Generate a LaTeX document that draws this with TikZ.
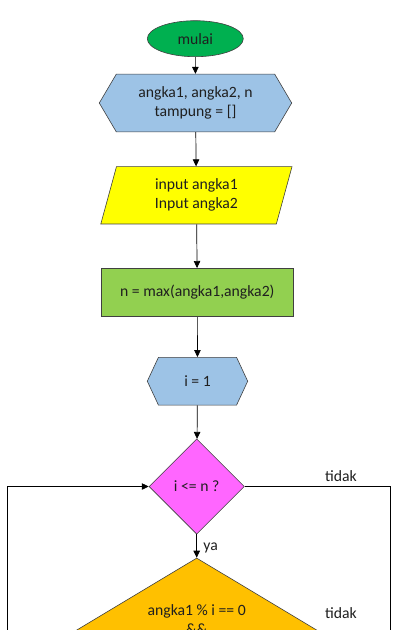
\documentclass[tikz,border=0pt]{standalone}
\usepackage{fontspec}
\setmainfont{Carlito}
\usetikzlibrary{shapes.geometric,shapes.symbols,arrows.meta}
\definecolor{mulaigreen}{HTML}{00B050}
\definecolor{varblue}{HTML}{9DC3E6}
\definecolor{inyellow}{HTML}{FFFF00}
\definecolor{procgreen}{HTML}{92D050}
\definecolor{condpink}{HTML}{FF66FF}
\definecolor{condorange}{HTML}{FFC000}
\begin{document}
\begin{tikzpicture}[x=1pt,y=-1pt,
    font=\fontsize{15.7}{19}\selectfont, text=black!88,
    box/.style={draw=black!75, line width=0.6pt, align=center, inner sep=0pt},
    terminal/.style={box, ellipse, fill=mulaigreen, minimum width=96pt, minimum height=36pt},
    prep/.style={box, signal, signal to=east and west, fill=varblue},
    io/.style={box, trapezium, trapezium left angle=76, trapezium right angle=104,
      trapezium stretches, fill=inyellow, minimum width=192.7pt, minimum height=57.3pt},
    process/.style={box, rectangle, fill=procgreen, minimum width=192pt, minimum height=48.4pt},
    decision/.style={box, diamond, aspect=1},
    arrow/.style={-{Triangle[length=7pt,width=6.5pt]}, line width=0.7pt}]
  \useasboundingbox (0,0) rectangle (400,630);
  \clip (0,0) rectangle (400,630);
  \draw
    (195.3,38.7) node[terminal] (mulai){mulai}
    (195.5,103) node[prep, minimum width=192.4pt, minimum height=57.7pt,
      signal pointer angle=119] (var){angka1, angka2, n\\tampung = []}
    (196.4,195.3) node[io] (input){input angka1\\Input angka2}
    (197.3,292.5) node[process] (max){n = max(angka1,angka2)}
    (197.5,381.2) node[prep, minimum width=100.4pt, minimum height=47.7pt,
      signal pointer angle=130] (init){i = 1}
    (196.7,486.5) node[decision, fill=condpink, minimum size=95.3pt] (loop){i <= n ?}
    (196.7,630) node[decision, fill=condorange, minimum width=240pt, minimum height=144pt,
      aspect=1.67] (cek){angka1 \% i == 0\\\&\&\\angka2 \% i == 0};
  \coordinate (kiri) at (7.3,640);
  \coordinate (kanan) at (390,640);
  \begin{scope}[arrow]
    \draw (mulai) to (var);
    \draw (var) to (input);
    \draw (input) to (max);
    \draw (max) to (init);
    \draw (init) to (loop);
    \draw (loop) to node[right, xshift=3pt, pos=0.6]{ya} (cek);
    \draw (kiri) |- (loop.west);
  \end{scope}
  \draw[line width=0.7pt] (loop.east) -| (kanan);
  \node (tidak1) at (341,476) {tidak};
  \node (tidak2) at (341,613) {tidak};
\end{tikzpicture}
\end{document}
